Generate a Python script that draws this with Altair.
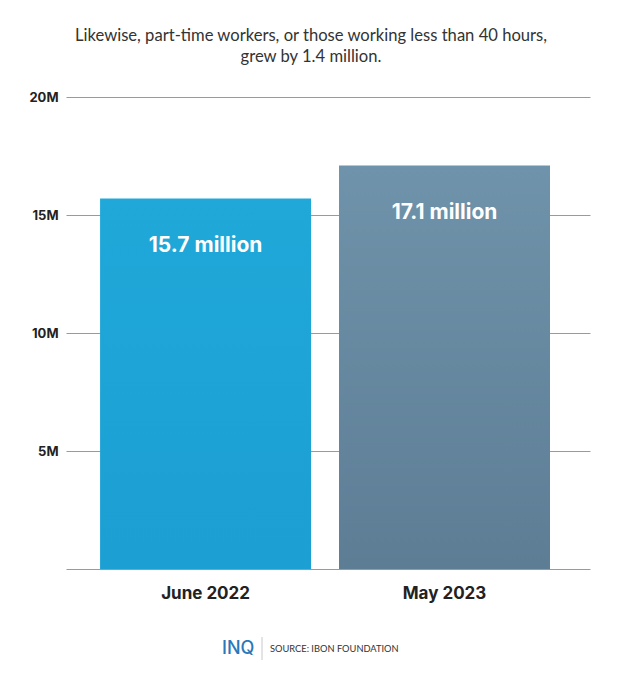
import altair as alt
import pandas as pd

periods = ["June 2022", "May 2023"]
workers_m = [15.7, 17.1]
bar_labels = ["15.7 million", "17.1 million"]
y_ticks = [0, 5, 10, 15, 20]

title_lines = [
    "Likewise, part-time workers, or those working less than 40 hours,",
    "grew by 1.4 million.",
]
brand = "INQ"
source = "SOURCE: IBON FOUNDATION"

df = pd.DataFrame({"period": periods, "value": workers_m, "label": bar_labels})

x_enc = alt.X(
    "period:N",
    sort=periods,
    title=None,
    scale=alt.Scale(paddingInner=0.117, paddingOuter=0.155, align=0.46),
    axis=alt.Axis(
        labelAngle=0,
        labelFont="Inter",
        labelFontSize=17,
        labelFontWeight="bold",
        labelColor="#222222",
        labelPadding=16,
        ticks=False,
        domain=False,
        grid=False,
    ),
)
y_enc = alt.Y(
    "value:Q",
    title=None,
    scale=alt.Scale(domain=[0, 20]),
    axis=alt.Axis(
        values=y_ticks,
        labelExpr="datum.value == 0 ? '' : datum.value + 'M'",
        labelFont="Inter",
        labelFontSize=13,
        labelFontWeight="bold",
        labelColor="#222222",
        labelPadding=8,
        ticks=False,
        domain=False,
        gridColor="#9a9a9a",
        gridWidth=1,
    ),
)

base = alt.Chart(df)


def bar_for(period, top, bottom):
    return (
        base.transform_filter(alt.datum.period == period)
        .mark_bar(
            color=alt.Gradient(
                gradient="linear",
                x1=0, x2=0, y1=0, y2=1,
                stops=[
                    alt.GradientStop(color=top, offset=0),
                    alt.GradientStop(color=bottom, offset=1),
                ],
            )
        )
        .encode(x=x_enc, y=y_enc)
    )


bars = bar_for(periods[0], "#20a8d9", "#1c9fd3") + bar_for(periods[1], "#6f93aa", "#5d7d95")

labels = base.mark_text(
    font="Inter", fontSize=21, fontWeight="bold", color="white", baseline="middle", dy=48
).encode(x=alt.X("period:N", sort=periods), y="value:Q", text="label:N")

footer_df = pd.DataFrame({"brand": [brand], "source": [source]})
inq = alt.Chart(footer_df).mark_text(
    font="Inter", fontSize=18, fontWeight=500, color="#2a78b8", align="left", baseline="middle"
).encode(x=alt.value(156), y=alt.value(552), text="brand:N")
sep = alt.Chart(footer_df).mark_rule(color="#c8c8c8").encode(
    x=alt.value(196), y=alt.value(540), y2=alt.value(563)
)
src = alt.Chart(footer_df).mark_text(
    font="Lato", fontSize=9.3, color="#333333", align="left", baseline="middle"
).encode(x=alt.value(204), y=alt.value(552), text="source:N")

chart = (
    alt.layer(bars, labels, inq, sep, src)
    .properties(
        width=524,
        height=472,
        background="white",
        autosize=alt.AutoSizeParams(type="none"),
        padding={"left": 58, "top": 89, "right": 22, "bottom": 109},
        title=alt.TitleParams(
            text=title_lines,
            font="Lato",
            fontSize=16.6,
            fontWeight="normal",
            color="#333333",
            anchor="middle",
            dx=-17,
            offset=25,
            lineHeight=21,
        ),
    )
    .configure_view(stroke="transparent", strokeWidth=0)
)

chart.save("out.html", embed_options={"renderer": "svg", "actions": False})
